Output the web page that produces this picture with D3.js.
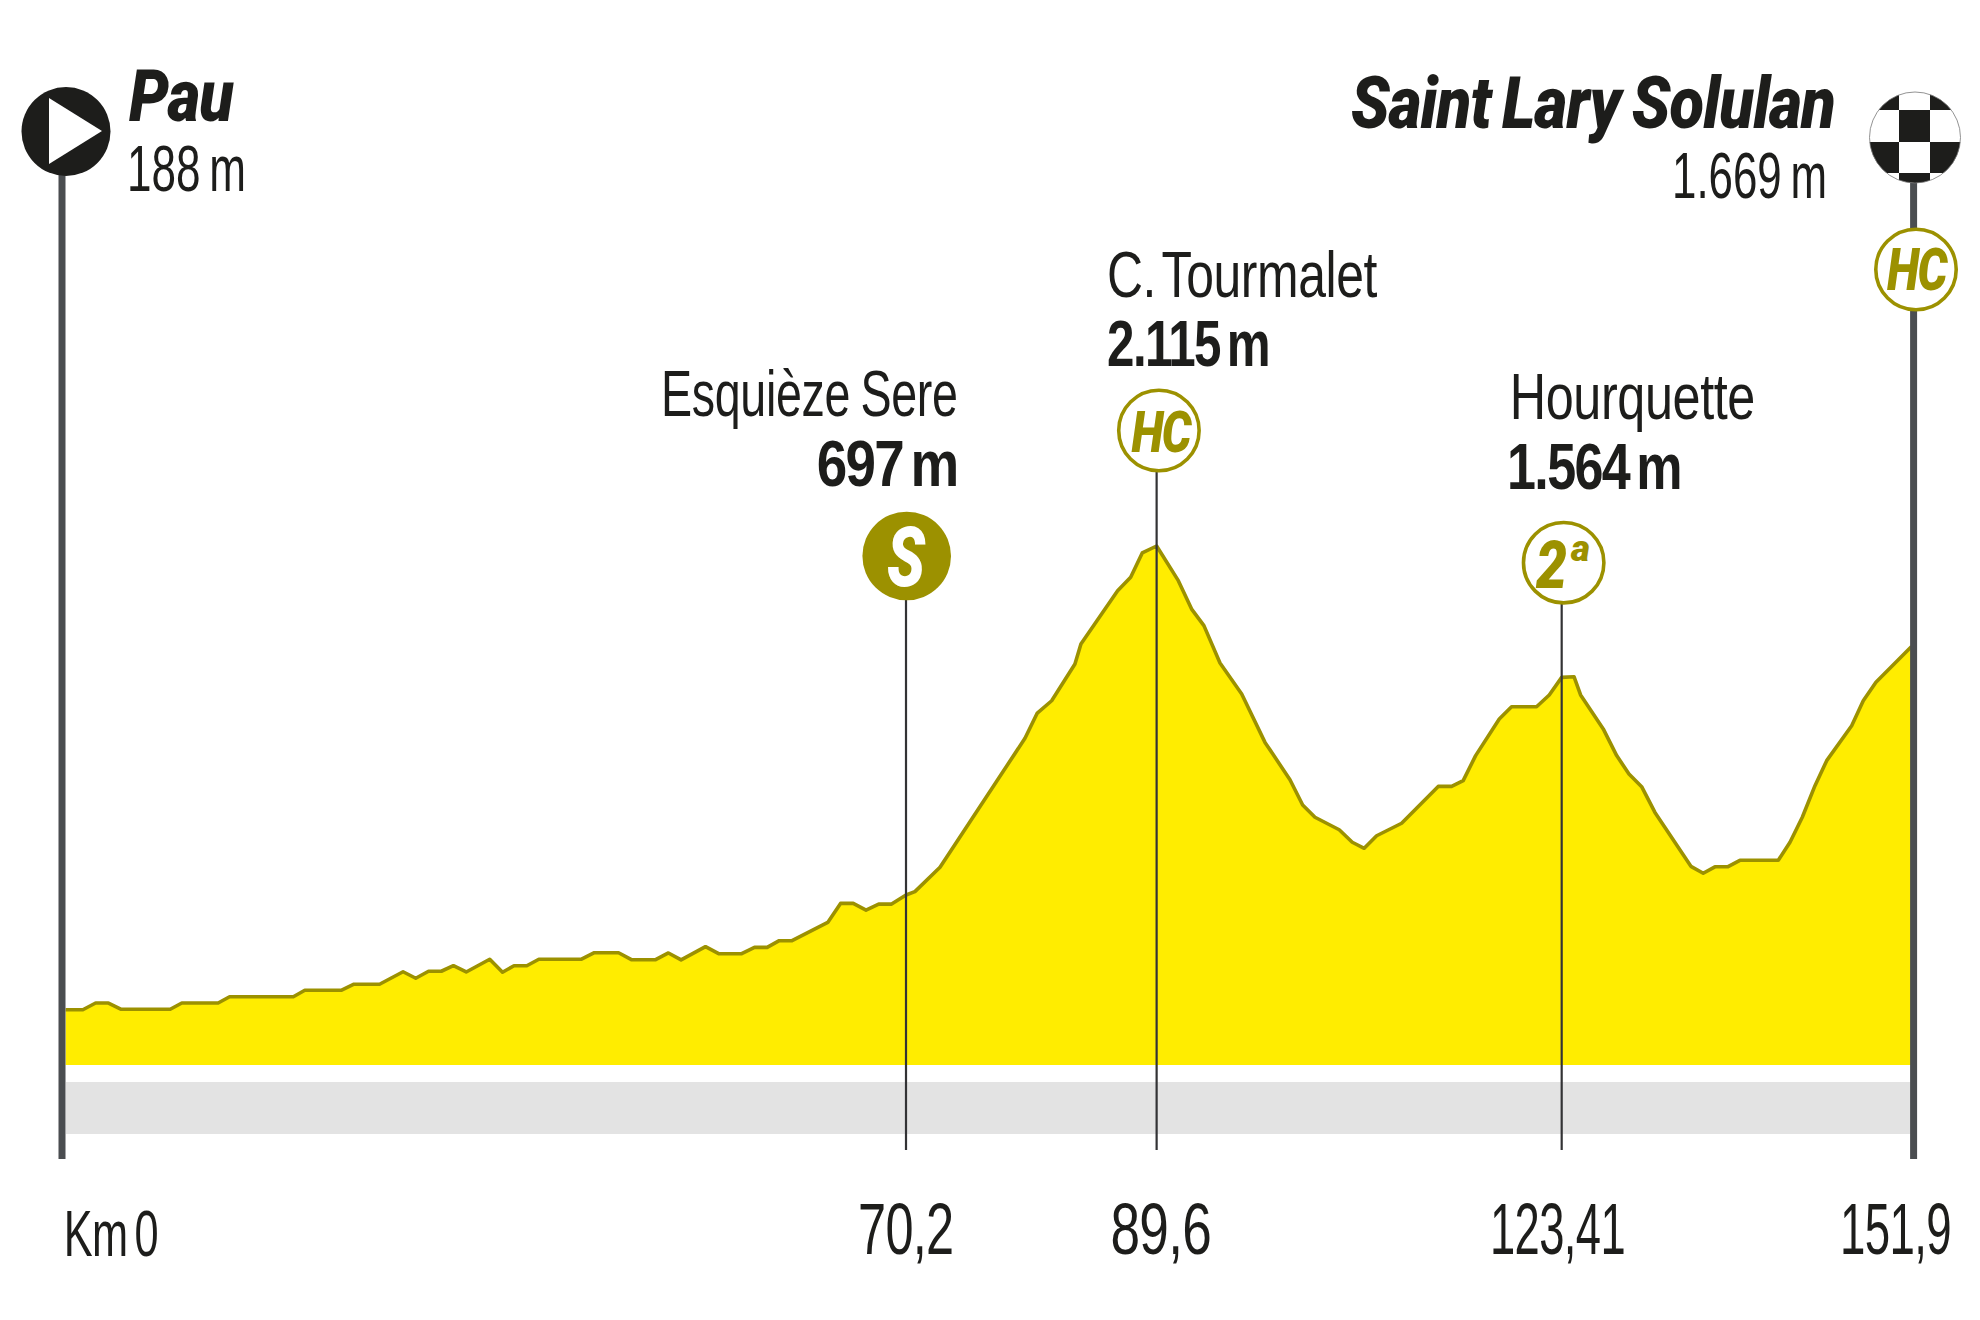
<!DOCTYPE html>
<html><head><meta charset="utf-8">
<script src="https://cdn.jsdelivr.net/npm/d3@7/dist/d3.min.js"></script>
<style>html,body{margin:0;padding:0;background:#fff}svg{display:block}</style>
</head><body><svg id="c" width="1980" height="1320" viewBox="0 0 1980 1320"></svg>
<script>
// Profile
const profileKm = [0.3,1.71,2.76,3.81,4.86,8.88,9.83,12.81,13.75,18.98,19.92,22.90,23.95,26.05,27.98,29.02,30.07,31.12,32.11,33.16,35.09,36.14,37.08,38.13,39.12,42.62,43.67,45.66,46.71,48.70,49.75,50.79,52.79,53.87,55.76,56.81,57.85,58.84,59.89,62.82,63.87,64.91,65.96,67.00,68.06,69.24,69.97,72.03,79.00,80.01,81.19,83.10,83.59,86.60,87.67,88.62,89.80,91.58,92.67,93.68,95.0,96.78,98.69,100.74,101.78,102.79,104.78,105.85,106.83,107.85,109.90,112.90,114.0,114.95,115.97,117.91,118.92,120.97,122.01,123.03,124.04,124.58,126.44,127.54,128.55,129.59,130.68,133.63,134.64,135.60,136.64,137.65,140.80,141.76,142.77,143.81,144.77,146.82,147.77,148.81,151.73];
const profileM = [188,188,216,216,190,190,216,216,242,242,269,269,294,294,346,319,348,348,371,345,398,344,371,371,398,398,425,425,396,396,424,395,450,421,421,447,447,475,475,551,630,630,602,627,627,665,679,780,1316,1421,1472,1625,1708,1929,1985,2086,2115,1971,1853,1784,1629,1500,1299,1144,1039,988,936,884,859,911,963,1116,1116,1140,1244,1396,1447,1447,1496,1569,1572,1496,1355,1244,1168,1115,1008,784,755,782,782,809,809,884,988,1119,1223,1368,1472,1549,1697];
const baseM = -41.5, domainKm = [0,151.9], domainM = [0,2115];
// Passes
const passNames = ["Esquièze Sere","C. Tourmalet","Hourquette"];
const passHeights = ["697 m","2.115 m","1.564 m"];
const markKm = [69.24,89.8,123.03,151.9];
const kmLabels = ["Km 0","70,2","89,6","123,41","151,9"];
const startName="Pau", startHeight="188 m", endName="Saint Lary Solulan", endHeight="1.669 m";

const YEL="#FFED00", OLV="#9C9100", INK="#1d1d1b", AX="#4a4d50";
const NARROW="'Liberation Sans Narrow','Liberation Sans',sans-serif";
const HEAVY="Roboto,'Liberation Sans',sans-serif";

const svg=d3.select("#c");
const x=d3.scaleLinear().domain(domainKm).range([62,1913.6]);
const y=d3.scaleLinear().domain(domainM).range([1055,546]);
const pts=profileKm.map((k,i)=>[k,profileM[i]]);

// grey road band
svg.append("rect").attr("x",x(0)+4).attr("y",1082).attr("width",x(151.9)-x(0)-6).attr("height",52).attr("fill","#E3E3E3");
// profile
svg.append("path").datum(pts).attr("fill",YEL)
  .attr("d",d3.area().x(d=>x(d[0])).y1(d=>y(d[1])).y0(y(baseM)));
svg.append("path").datum(pts).attr("fill","none").attr("stroke",OLV).attr("stroke-width",3.6).attr("stroke-linejoin","round")
  .attr("d",d3.line().x(d=>x(d[0])).y(d=>y(d[1])));

// thin pass ticks
const tickTops=[600,472,604];
svg.selectAll("line.t").data(markKm.slice(0,3)).join("line").attr("class","t")
  .attr("x1",d=>x(d)).attr("x2",d=>x(d)).attr("y1",(d,i)=>tickTops[i]).attr("y2",1150)
  .attr("stroke","#333335").attr("stroke-width",2.2);
// thick end axes
[[0,170],[151.9,180]].forEach(([k,t])=>svg.append("line").attr("x1",x(k)).attr("x2",x(k)).attr("y1",t).attr("y2",1159).attr("stroke",AX).attr("stroke-width",7));

function txt(s,x0,base,size,w,opt={}){
  const pad=opt.pad===undefined?2:opt.pad;
  const t=svg.append("text").text(s).attr("x",x0-pad).attr("y",base).attr("font-size",size)
   .attr("font-family",opt.family||NARROW).attr("fill",opt.fill||INK)
   .attr("font-weight",opt.weight||400).attr("font-style",opt.style||"normal")
   .attr("textLength",w+2*pad).attr("lengthAdjust","spacingAndGlyphs")
   .style("word-spacing",(opt.ws===undefined?-5:opt.ws)+"px")
   .style("letter-spacing",(opt.ls||0)+"px");
  if(opt.stroke) t.attr("stroke",opt.fill||INK).attr("stroke-width",opt.stroke);
  return t;
}
// start marker
svg.append("circle").attr("cx",66).attr("cy",131.5).attr("r",44.5).attr("fill",INK);
svg.append("path").attr("d","M49,98L102,131L49,164Z").attr("fill","#fff");
// finish marker
const defs=svg.append("defs");
defs.append("clipPath").attr("id","fc").append("circle").attr("cx",1915).attr("cy",137.5).attr("r",45.5);
const fg=svg.append("g").attr("clip-path","url(#fc)");
fg.append("rect").attr("x",1868).attr("y",90).attr("width",94).attr("height",95).attr("fill","#fff");
const colX=[1868,1899,1930], rowY=[90,110,142,173], rowH=[20,32,31,12], colW=[31,31,32];
rowY.forEach((ry,r)=>colX.forEach((cx,c)=>{ if((r+c)%2===0) fg.append("rect").attr("x",cx).attr("y",ry).attr("width",colW[c]).attr("height",rowH[r]).attr("fill",INK);}));
svg.append("circle").attr("cx",1915).attr("cy",137.5).attr("r",45.5).attr("fill","none").attr("stroke","#777").attr("stroke-width",.8);

// category badges
function ring(cx,cy){svg.append("circle").attr("cx",cx).attr("cy",cy).attr("r",40.2).attr("fill","#fff").attr("stroke",OLV).attr("stroke-width",3.6);}
const BADGE={family:HEAVY,weight:900,style:"italic",fill:OLV,pad:0,ls:-2};
ring(x(markKm[3])+2.4,269.5); txt("HC",1887,290,59,59,BADGE);
ring(x(markKm[1])+2.3,430.5); txt("HC",1131.5,451.7,58,58.5,BADGE);
svg.append("circle").attr("cx",x(markKm[0])+.7).attr("cy",556).attr("r",44.3).attr("fill",OLV);
txt("S",887,586,84,38,{family:HEAVY,weight:900,style:"italic",fill:"#fff",pad:0});
ring(x(markKm[2])+2,562.7);
txt("2",1536,588,66,31,{family:HEAVY,weight:900,style:"italic",fill:OLV,pad:0});
txt("a",1571,561,36,19,{family:HEAVY,weight:900,style:"italic",fill:OLV,pad:0});

// place names
const BIG={family:HEAVY,weight:900,style:"italic",ws:-4,ls:-1,pad:1};
txt(startName,130,120.7,72,102,BIG);
txt(endName,1352,128,72,482,BIG);
txt(startHeight,129,190.7,64,115);
txt(endHeight,1674,198,64,151);

// passes: name + height
const nameBox=[[663,416,292.5],[1109,296.7,266],[1511.7,419,241.3]];
const nameGap=[-3,-9,-9];
const heightBox=[[818.7,485.7,136.8],[1109,366,158],[1509,489,170]];
const SEMI={family:NARROW,weight:700,ls:-2,ws:-7};
passNames.forEach((n,i)=>txt(n,nameBox[i][0],nameBox[i][1],64,nameBox[i][2],{ws:nameGap[i],ls:-.5}));
passHeights.forEach((n,i)=>txt(n,heightBox[i][0],heightBox[i][1],64,heightBox[i][2],SEMI));

// km labels
const kmBox=[[65.7,1256,90.3,64],[860,1254,91.5,72],[1112.5,1254,96.5,72],[1492,1254,131,72],[1842,1254,107,72]];
kmLabels.forEach((s,i)=>txt(s,kmBox[i][0],kmBox[i][1],kmBox[i][3],kmBox[i][2],{ws:-6,ls:-1}));
</script></body></html>
